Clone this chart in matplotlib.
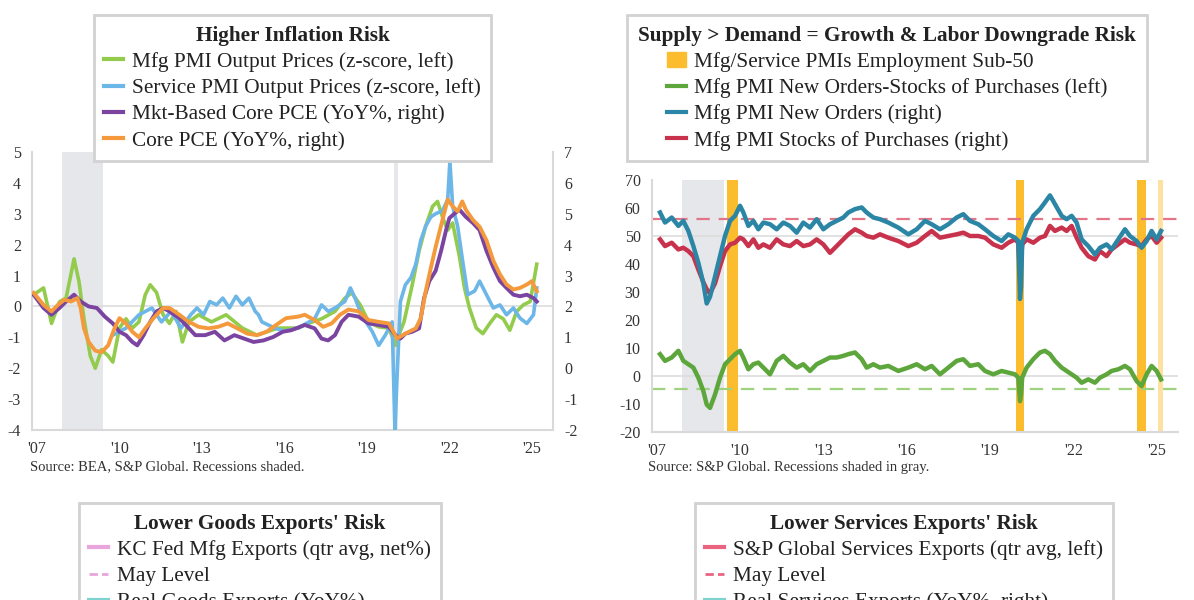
import matplotlib
matplotlib.use("Agg")
import matplotlib.pyplot as plt
from matplotlib.lines import Line2D
from matplotlib.patches import Patch

plt.rcParams['font.family'] = ['Liberation Serif', 'DejaVu Serif']
plt.rcParams['axes.unicode_minus'] = False

# ---------------- data: top-left chart ----------------
mfg_px_x = [2006.88, 2007.24, 2007.53, 2007.82, 2008.06, 2008.35, 2008.53, 2008.71, 2008.94, 2009.12,
            2009.35, 2009.59, 2009.76, 2010.0, 2010.24, 2010.47, 2010.71, 2010.94, 2011.12, 2011.35,
            2011.59, 2011.82, 2012.06, 2012.29, 2012.53, 2012.88, 2013.35, 2013.88, 2014.47, 2015.0,
            2015.76, 2016.5, 2016.86, 2017.35, 2017.84, 2018.2, 2018.45, 2018.76, 2019.06, 2019.43,
            2019.8, 2020.04, 2020.16, 2020.35, 2020.65, 2020.9, 2021.14, 2021.39, 2021.57, 2021.75,
            2021.94, 2022.12, 2022.37, 2022.55, 2022.73, 2022.98, 2023.22, 2023.47, 2023.71, 2023.96,
            2024.2, 2024.45, 2024.69, 2024.94, 2025.18]
mfg_px_z = [0.38, 0.6, -0.55, 0.15, 0.27, 1.54, 0.8, -0.4, -1.6, -2.0,
            -1.4, -1.6, -1.8, -0.7, -0.4, -0.7, -0.5, 0.38, 0.7, 0.45,
            -0.27, -0.55, -0.16, -1.15, -0.5, -0.27, -0.5, -0.27, -0.7, -0.93,
            -0.7, -0.7, -0.55, -0.4, -0.16, 0.27, 0.44, 0.05, -0.5, -0.66,
            -0.7, -1.26, -0.93, -0.5, 0.7, 1.8, 2.6, 3.24, 3.4, 2.9,
            2.47, 2.7, 1.6, 0.6, -0.05, -0.7, -0.88, -0.55, -0.27, -0.4,
            -0.77, -0.16, 0.05, 0.16, 1.37]

svc_px_x = [2009.76, 2010.24, 2010.71, 2011.18, 2011.53, 2011.88, 2012.24, 2012.59, 2012.82, 2013.06,
            2013.29, 2013.53, 2013.76, 2014.0, 2014.24, 2014.47, 2014.71, 2014.94, 2015.06, 2015.18,
            2015.65, 2016.0, 2016.5, 2017.1, 2017.35, 2017.6, 2017.84, 2018.2, 2018.4, 2018.57,
            2018.8, 2019.2, 2019.43, 2019.67, 2019.92, 2020.02, 2020.1, 2020.22, 2020.4, 2020.6,
            2020.78, 2020.96, 2021.14, 2021.33, 2021.5, 2021.75, 2021.94, 2022.02, 2022.12, 2022.3,
            2022.5, 2022.67, 2022.92, 2023.1, 2023.35, 2023.6, 2023.84, 2024.08, 2024.33, 2024.57,
            2024.82, 2025.06, 2025.18]
svc_px_z = [-0.93, -0.7, -0.27, -0.05, -0.5, -0.16, -0.7, -0.27, -0.05, -0.27,
            0.16, 0.05, 0.27, -0.05, 0.33, 0.05, 0.27, -0.16, -0.27, -0.5,
            -0.7, -0.8, -0.7, -0.4, 0.05, -0.16, -0.05, 0.16, 0.6, 0.27,
            -0.27, -0.82, -1.26, -0.93, -0.5, -4.0, -2.25, 0.16, 0.7, 0.93,
            1.37, 2.14, 2.6, 2.9, 3.0, 3.1, 3.46, 4.7, 3.24, 2.6,
            1.37, 0.38, 0.5, 0.82, 0.38, -0.05, 0.05, -0.27, -0.05, -0.38,
            -0.55, -0.27, 0.6]

mkt_pce_x = [2006.88, 2007.24, 2007.53, 2007.82, 2008.06, 2008.35, 2008.59, 2008.88, 2009.18, 2009.47,
             2009.76, 2010.0, 2010.24, 2010.47, 2010.65, 2010.88, 2011.12, 2011.35, 2011.59, 2011.82,
             2012.18, 2012.53, 2012.76, 2013.12, 2013.47, 2013.82, 2014.18, 2014.53, 2014.88, 2015.24,
             2015.59, 2015.94, 2016.25, 2016.74, 2017.1, 2017.35, 2017.59, 2017.84, 2018.08, 2018.33,
             2018.7, 2019.06, 2019.43, 2019.8, 2020.04, 2020.22, 2020.4, 2020.65, 2020.9, 2021.08,
             2021.27, 2021.5, 2021.7, 2021.88, 2022.0, 2022.18, 2022.37, 2022.6, 2022.86, 2023.1,
             2023.35, 2023.6, 2023.84, 2024.08, 2024.33, 2024.57, 2024.82, 2025.06, 2025.18]
mkt_pce_yoy = [2.38, 1.95, 1.73, 1.95, 2.16, 2.38, 2.16, 2.0, 1.95, 1.67,
               1.45, 1.18, 1.07, 0.85, 0.74, 1.07, 1.5, 1.84, 1.95, 1.84,
               1.62, 1.29, 1.07, 1.07, 1.18, 0.9, 1.07, 0.96, 0.85, 0.9,
               1.01, 1.18, 1.23, 1.4, 1.29, 0.96, 0.9, 1.07, 1.5, 1.73,
               1.67, 1.45, 1.4, 1.34, 1.07, 0.96, 1.12, 1.18, 1.29, 2.27,
               2.82, 3.15, 3.8, 4.47, 4.86, 5.0, 5.13, 4.9, 4.7, 4.47,
               3.8, 3.26, 2.82, 2.6, 2.38, 2.33, 2.38, 2.27, 2.16]

core_pce_x = [2006.88, 2007.24, 2007.53, 2007.76, 2008.0, 2008.24, 2008.47, 2008.59, 2008.71, 2008.88,
              2009.12, 2009.35, 2009.59, 2009.82, 2010.0, 2010.24, 2010.47, 2010.71, 2010.94, 2011.24,
              2011.59, 2011.82, 2012.18, 2012.53, 2012.88, 2013.24, 2013.59, 2013.94, 2014.29, 2014.65,
              2015.0, 2015.35, 2015.7, 2016.06, 2016.5, 2016.74, 2017.1, 2017.41, 2017.72, 2018.02,
              2018.33, 2018.7, 2019.06, 2019.43, 2019.8, 2020.1, 2020.3, 2020.53, 2020.78, 2020.96,
              2021.14, 2021.33, 2021.5, 2021.75, 2021.94, 2022.12, 2022.3, 2022.47, 2022.6, 2022.86,
              2023.1, 2023.35, 2023.6, 2023.84, 2024.08, 2024.33, 2024.57, 2024.82, 2025.0, 2025.18]
core_pce_yoy = [2.44, 2.05, 1.84, 2.05, 2.22, 2.16, 2.27, 1.95, 1.29, 0.85,
                0.57, 0.52, 0.74, 1.29, 1.62, 1.45, 1.18, 1.0, 1.29, 1.62,
                1.95, 1.95, 1.73, 1.5, 1.34, 1.29, 1.34, 1.45, 1.29, 1.12,
                1.07, 1.18, 1.4, 1.62, 1.67, 1.73, 1.56, 1.34, 1.45, 1.73,
                1.9, 1.84, 1.56, 1.5, 1.45, 0.96, 1.07, 1.18, 1.29, 1.62,
                2.49, 3.26, 3.92, 4.8, 5.46, 5.24, 5.08, 5.4, 5.13, 4.8,
                4.58, 4.14, 3.48, 3.04, 2.71, 2.55, 2.6, 2.71, 2.82, 2.49]

# ---------------- data: top-right chart ----------------
pmi_x = [2007.12, 2007.3, 2007.54, 2007.78, 2007.96, 2008.14, 2008.32, 2008.5, 2008.68, 2008.8,
         2008.92, 2009.1, 2009.28, 2009.46, 2009.64, 2009.82, 2010.0, 2010.12, 2010.3, 2010.48,
         2010.66, 2010.84, 2011.08, 2011.32, 2011.56, 2011.8, 2012.04, 2012.28, 2012.52, 2012.76,
         2013.0, 2013.24, 2013.48, 2013.72, 2013.9, 2014.14, 2014.38, 2014.56, 2014.8, 2015.04,
         2015.34, 2015.7, 2016.06, 2016.36, 2016.66, 2016.9, 2017.2, 2017.5, 2017.8, 2018.04,
         2018.28, 2018.58, 2018.82, 2019.12, 2019.42, 2019.66, 2019.9, 2020.02, 2020.08, 2020.12,
         2020.16, 2020.32, 2020.56, 2020.8, 2020.98, 2021.16, 2021.34, 2021.58, 2021.76, 2021.94,
         2022.12, 2022.3, 2022.54, 2022.78, 2022.96, 2023.2, 2023.38, 2023.62, 2023.86, 2024.04,
         2024.28, 2024.46, 2024.64, 2024.82, 2025.0, 2025.16]
new_orders = [58.4, 54.8, 56.6, 53.6, 55.4, 51.8, 46.4, 40.4, 33.1, 25.9,
              28.3, 35.5, 42.8, 50.0, 55.4, 57.2, 60.8, 58.4, 53.6, 55.4,
              52.4, 54.8, 54.2, 52.4, 54.8, 53.6, 51.2, 54.8, 53.0, 56.0,
              52.4, 54.2, 55.4, 56.6, 58.4, 59.6, 60.2, 58.4, 56.6, 56.0,
              54.8, 53.0, 50.6, 52.4, 55.4, 54.2, 52.4, 54.2, 56.6, 57.8,
              55.4, 54.2, 52.4, 50.0, 48.2, 50.6, 49.4, 48.2, 27.5, 32.0,
              47.6, 52.4, 57.2, 59.6, 62.0, 64.5, 61.4, 57.2, 56.0, 57.2,
              54.8, 48.8, 46.4, 43.4, 45.8, 47.0, 45.2, 48.8, 52.4, 50.0,
              48.2, 45.8, 48.2, 51.8, 48.8, 51.8]
stocks_purch = [48.8, 46.4, 47.6, 45.2, 45.8, 44.6, 42.8, 38.0, 33.5, 31.0,
                29.5, 33.1, 39.2, 44.6, 47.0, 47.6, 49.4, 48.8, 46.4, 48.8,
                45.8, 47.0, 45.8, 48.8, 47.0, 46.4, 48.2, 46.4, 47.0, 48.8,
                47.0, 44.0, 46.4, 48.8, 50.6, 52.4, 51.2, 50.0, 49.4, 50.6,
                49.4, 48.2, 46.4, 47.6, 50.0, 51.8, 49.4, 50.0, 50.6, 51.2,
                50.0, 50.0, 49.4, 47.0, 45.8, 47.6, 48.8, 47.6, 36.7, 41.6,
                47.0, 48.8, 47.6, 49.4, 50.0, 53.6, 51.8, 53.0, 51.8, 53.6,
                49.4, 45.8, 42.8, 41.6, 44.6, 42.8, 45.2, 47.0, 48.8, 47.6,
                47.0, 46.4, 48.8, 50.0, 47.6, 49.4]
no_minus_sp = [7.8, 5.4, 6.6, 9.0, 5.4, 4.2, 3.0, -0.6, -5.4, -10.2,
               -11.4, -6.6, -0.6, 4.2, 6.0, 7.8, 9.0, 6.6, 2.4, 4.2,
               4.8, 3.0, 0.6, 5.4, 7.2, 4.8, 3.0, 4.2, 1.8, 4.2,
               5.4, 6.6, 6.6, 7.2, 7.8, 8.4, 6.0, 3.0, 4.2, 3.0,
               3.6, 1.8, 3.0, 4.2, 2.4, 3.6, 0.6, 3.0, 5.4, 6.0,
               3.6, 4.2, 1.8, 0.6, 1.8, 1.2, 0.6, -0.6, -9.0, -6.6,
               -0.6, 3.0, 6.0, 8.4, 9.0, 7.8, 5.4, 3.0, 1.8, 0.6,
               -0.6, -2.4, -1.2, -2.4, -0.6, 0.6, 1.8, 2.4, 3.6, 2.4,
               -1.8, -3.6, 0.6, 3.6, 1.8, -1.2]

no_sp_threshold = [56.0]
no_minus_sp_threshold = [-4.5]
emp_sub50_start = [2009.52, 2019.92, 2024.28, 2025.06]
emp_sub50_end = [2009.92, 2020.24, 2024.62, 2025.22]

recess_start = [2007.92, 2019.98]
recess_end = [2009.42, 2020.14]

year_ticks = [2007, 2010, 2013, 2016, 2019, 2022, 2025]
year_labels = ["'07", "'10", "'13", "'16", "'19", "'22", "'25"]

# ---------------- styling ----------------
W, H = 1194, 600
fig = plt.figure(figsize=(W / 100, H / 100), dpi=100)

def box(x0, y0, x1, y1):
    return [x0 / W, 1 - y1 / H, (x1 - x0) / W, (y1 - y0) / H]

SPINE = '#d9d9d9'
TXT = '#333333'
XLIM = (2006.82, 2025.77)
C_GREEN, C_BLUE, C_PURP, C_ORNG = '#93cc4c', '#6db6e8', '#7a44a0', '#f49a3c'
C_NO, C_SP, C_NMS = '#2b86a6', '#c8324c', '#5ca63c'
C_EMP = '#fbbd2e'
C_REC = '#e5e7eb'

def style(ax, right=False):
    for s in ['top', 'right', 'left', 'bottom']:
        ax.spines[s].set_visible(False)
    ax.spines['left'].set_visible(True)
    ax.spines['bottom'].set_visible(True)
    if right:
        ax.spines['right'].set_visible(True)
    for s in ax.spines.values():
        s.set_color(SPINE)
        s.set_linewidth(1.5)
    ax.tick_params(length=0, labelsize=11.5, labelcolor=TXT, pad=8)
    ax.set_xlim(*XLIM)
    ax.set_xticks(year_ticks)
    ax.set_xticklabels(year_labels)

# ---- top-left ----
ax1 = fig.add_axes(box(32, 152, 553, 430))
style(ax1, right=True)
ax1.set_ylim(-4, 5)
ax1.set_yticks(range(-4, 6))
ax1.axvspan(recess_start[0], recess_end[0], color=C_REC, lw=0, zorder=0)
ax1.axvspan(recess_start[1], recess_end[1], color=C_REC, lw=0, zorder=0)
ax1.axhline(0, color='#dddddd', lw=1.2, zorder=1)
ax1b = ax1.twinx()
ax1b.set_ylim(-2, 7)
ax1b.set_yticks(range(-2, 8))
ax1b.tick_params(length=0, labelsize=11.5, labelcolor=TXT, pad=8)
for s in ax1b.spines.values():
    s.set_visible(False)
ax1.plot(mfg_px_x, mfg_px_z, color=C_GREEN, lw=2.6, zorder=3)
ax1.plot(svc_px_x, svc_px_z, color=C_BLUE, lw=2.6, zorder=3)
ax1b.plot(mkt_pce_x, mkt_pce_yoy, color=C_PURP, lw=2.8, zorder=3)
ax1b.plot(core_pce_x, core_pce_yoy, color=C_ORNG, lw=2.8, zorder=3)
fig.text(30 / W, 1 - 467 / H, "Source: BEA, S&P Global. Recessions shaded.",
         fontsize=10.5, color=TXT, va='center', ha='left')

# ---- top-right ----
ax2 = fig.add_axes(box(651.7, 180, 1178, 432))
style(ax2)
ax2.set_ylim(-20, 70)
ax2.set_yticks(range(-20, 71, 10))
ax2.axvspan(recess_start[0], recess_end[0], color=C_REC, lw=0, zorder=0)
for i, (a, b) in enumerate(zip(emp_sub50_start, emp_sub50_end)):
    ax2.axvspan(a, b, color=C_EMP, lw=0, alpha=0.45 if i == 3 else 1.0, zorder=1)
ax2.axhline(50, color='#dddddd', lw=1.2, zorder=0.5)
ax2.axhline(0, color='#dddddd', lw=1.2, zorder=0.5)
ax2.axhline(no_sp_threshold[0], color='#e27587', lw=1.6, ls=(0, (6, 4)), zorder=2)
ax2.axhline(no_minus_sp_threshold[0], color='#9fd27f', lw=1.6, ls=(0, (6, 4)), zorder=2)
ax2.plot(pmi_x, no_minus_sp, color=C_NMS, lw=3.2, zorder=3)
ax2.plot(pmi_x, stocks_purch, color=C_SP, lw=3.2, zorder=3)
ax2.plot(pmi_x, new_orders, color=C_NO, lw=3.2, zorder=4)
fig.text(648 / W, 1 - 467 / H, "Source: S&P Global. Recessions shaded in gray.",
         fontsize=10.5, color=TXT, va='center', ha='left')

# ---- legends ----
LEG_FS = 15.3
def legend(handles, labels, title, cx, top_y):
    lg = fig.legend(handles, labels, title=title, loc='upper center',
                    bbox_to_anchor=(cx / W, 1 - top_y / H), fontsize=LEG_FS,
                    title_fontproperties={'weight': 'bold', 'size': LEG_FS},
                    frameon=True, fancybox=False, handlelength=0.9, handletextpad=0.4,
                    labelspacing=0.3, borderpad=0.5, borderaxespad=0)
    fr = lg.get_frame()
    fr.set_edgecolor('#d2d2d2')
    fr.set_linewidth(2.0)
    fr.set_facecolor('white')
    fr.set_alpha(1)
    for t in lg.get_texts():
        t.set_color('#222222')
    lg.get_title().set_color('#222222')
    return lg

legend([Line2D([], [], color=C_GREEN, lw=3), Line2D([], [], color=C_BLUE, lw=3),
        Line2D([], [], color=C_PURP, lw=3), Line2D([], [], color=C_ORNG, lw=3)],
       ["Mfg PMI Output Prices (z-score, left)", "Service PMI Output Prices (z-score, left)",
        "Mkt-Based Core PCE (YoY%, right)", "Core PCE (YoY%, right)"],
       "Higher Inflation Risk", 292.5, 15)

legend([Patch(color=C_EMP), Line2D([], [], color=C_NMS, lw=3),
        Line2D([], [], color=C_NO, lw=3), Line2D([], [], color=C_SP, lw=3)],
       ["Mfg/Service PMIs Employment Sub-50", "Mfg PMI New Orders-Stocks of Purchases (left)",
        "Mfg PMI New Orders (right)", "Mfg PMI Stocks of Purchases (right)"],
       "Supply > Demand = Growth & Labor Downgrade Risk", 887, 15)

C_PINK, C_SVC, C_TEAL = '#e8a6dc', '#ea6482', '#7fd3cf'
legend([Line2D([], [], color=C_PINK, lw=3), Line2D([], [], color=C_PINK, lw=2, ls=(0, (3, 1.5))),
        Line2D([], [], color=C_TEAL, lw=3)],
       ["KC Fed Mfg Exports (qtr avg, net%)", "May Level", "Real Goods Exports (YoY%)"],
       "Lower Goods Exports' Risk", 260, 503)
legend([Line2D([], [], color=C_SVC, lw=3), Line2D([], [], color=C_SVC, lw=2, ls=(0, (3, 1.5))),
        Line2D([], [], color=C_TEAL, lw=3)],
       ["S&P Global Services Exports (qtr avg, left)", "May Level", "Real Services Exports (YoY%, right)"],
       "Lower Services Exports' Risk", 904, 503)

fig.savefig("out.png", dpi=100)
